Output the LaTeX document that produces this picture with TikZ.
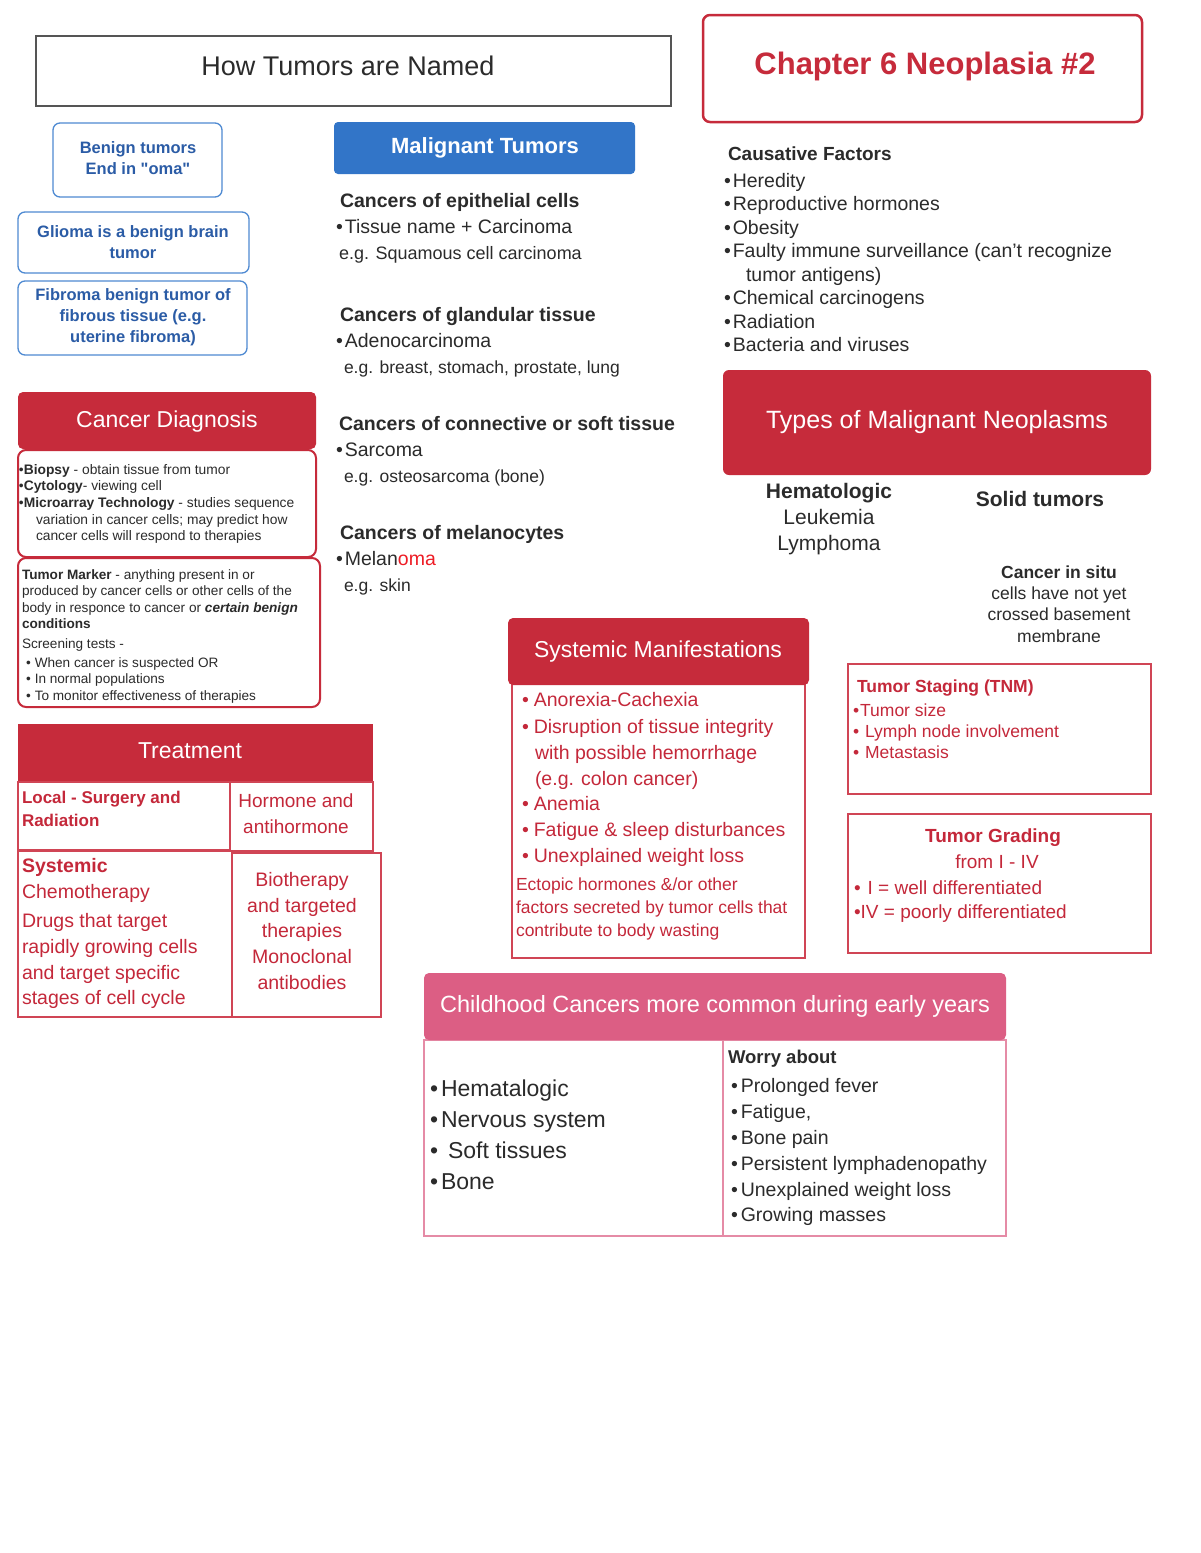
\documentclass[tikz,border=0pt]{standalone}
\usepackage{fontspec}
\setmainfont{Liberation Sans}
\newfontfamily\qfont{Liberation Sans}
\definecolor{hred}{HTML}{C62B3B}
\definecolor{tred}{HTML}{C4283A}
\definecolor{bred}{HTML}{D04555}
\definecolor{ored}{HTML}{EE1C25}
\definecolor{mblue}{HTML}{3275C8}
\definecolor{bblue}{HTML}{4F8AD2}
\definecolor{tblue}{HTML}{2B5CA6}
\definecolor{hpink}{HTML}{DC5E84}
\definecolor{bpink}{HTML}{E58BA6}
\definecolor{dtext}{HTML}{2B2B2B}
\definecolor{gborder}{HTML}{555555}
\newcommand\tln[7]{\node[anchor=#2,inner sep=0pt,outer sep=0pt,font=\fontsize{#5}{#5}\selectfont,#6] (#1) at (#3,{#4+0.35*#5}) {#7};}
\newcommand\bx[6]{\node[inner sep=0pt,outer sep=0pt,minimum width={#4-#2},minimum height={#5-#3},#6] (#1) at ({(#2+#4)/2},{(#3+#5)/2}) {};}
\newcommand\bu[1]{•\hspace{#1pt}}
\tikzset{
  bluebox/.style={draw=bblue,line width=1.3pt,rounded corners=7pt},
  redhead/.style={fill=hred,rounded corners=5pt},
  redcell/.style={draw=bred,line width=1.2pt},
  redround/.style={draw=hred,line width=2pt,rounded corners=8pt},
  pinkcell/.style={draw=bpink,line width=1.2pt},
}
\begin{document}
\begin{tikzpicture}[x=1pt,y=-1pt]
\fill[white] (0,0) rectangle (1200,1553);
\useasboundingbox (0,0) rectangle (1200,1553);

% Title boxes
\bx{howbox}{36}{36}{671}{106}{draw=gborder,line width=1.3pt}
\tln{howt}{base}{348}{66}{27}{text=dtext}{How Tumors are Named}
\bx{chapbox}{703}{15}{1142}{122}{draw=hred,line width=2.5pt,rounded corners=7pt}
\tln{chapt}{base}{925}{63.5}{31}{text=hred}{\bfseries Chapter 6 Neoplasia \#2}

% Blue boxes
\bx{benbox}{53}{123}{222}{197}{bluebox}
\tln{ben1}{base}{138}{148}{16.5}{text=tblue}{\bfseries Benign tumors}
\tln{ben2}{base}{138}{169}{16.5}{text=tblue}{\qfont\bfseries End in "oma"}
\bx{gliobox}{18}{212}{249}{273}{bluebox}
\tln{glio1}{base}{133}{232}{16.5}{text=tblue}{\bfseries Glioma is a benign brain}
\tln{glio2}{base}{133}{253}{16.5}{text=tblue}{\bfseries tumor}
\bx{fibbox}{18}{281}{247}{355}{bluebox}
\tln{fib1}{base}{133}{295}{16.5}{text=tblue}{\bfseries Fibroma benign tumor of}
\tln{fib2}{base}{133}{316}{16.5}{text=tblue}{\bfseries fibrous tissue (e.g.}
\tln{fib3}{base}{133}{337}{16.5}{text=tblue}{\bfseries uterine fibroma)}

% Malignant tumors
\bx{malbox}{334}{122}{635}{174}{fill=mblue,rounded corners=4pt}
\tln{malt}{base}{485}{146}{22}{text=white}{\bfseries Malignant Tumors}
\tln{m1h}{base west}{340}{201}{19.5}{text=dtext}{\bfseries Cancers of epithelial cells}
\tln{m1b}{base west}{336}{227}{19.5}{text=dtext}{\bu{2}Tissue name + Carcinoma}
\tln{m1c}{base west}{339}{253}{18}{text=dtext}{e.g. Squamous cell carcinoma}
\tln{m2h}{base west}{340}{315}{19.5}{text=dtext}{\bfseries Cancers of glandular tissue}
\tln{m2b}{base west}{336}{341}{19.5}{text=dtext}{\bu{2}Adenocarcinoma}
\tln{m2c}{base west}{344}{367}{17.5}{text=dtext}{e.g. breast, stomach, prostate, lung}
\tln{m3h}{base west}{339}{424}{19.5}{text=dtext}{\bfseries Cancers of connective or soft tissue}
\tln{m3b}{base west}{336}{450}{19.5}{text=dtext}{\bu{2}Sarcoma}
\tln{m3c}{base west}{344}{476}{17.5}{text=dtext}{e.g. osteosarcoma (bone)}
\tln{m4h}{base west}{340}{533}{19.5}{text=dtext}{\bfseries Cancers of melanocytes}
\tln{m4b}{base west}{336}{559}{19.5}{text=dtext}{\bu{2}Melan{\color{ored}oma}}
\tln{m4c}{base west}{344}{585}{17.5}{text=dtext}{e.g. skin}

% Causative factors
\tln{cf0}{base west}{728}{154}{19}{text=dtext}{\bfseries Causative Factors}
\tln{cf1}{base west}{724}{181}{19.5}{text=dtext}{\bu{2}Heredity}
\tln{cf2}{base west}{724}{204}{19.5}{text=dtext}{\bu{2}Reproductive hormones}
\tln{cf3}{base west}{724}{228}{19.5}{text=dtext}{\bu{2}Obesity}
\tln{cf4}{base west}{724}{251}{19.5}{text=dtext}{\bu{2}Faulty immune surveillance (can't recognize}
\tln{cf4b}{base west}{746}{275}{19.5}{text=dtext}{tumor antigens)}
\tln{cf5}{base west}{724}{298}{19.5}{text=dtext}{\bu{2}Chemical carcinogens}
\tln{cf6}{base west}{724}{322}{19.5}{text=dtext}{\bu{2}Radiation}
\tln{cf7}{base west}{724}{345}{19.5}{text=dtext}{\bu{2}Bacteria and viruses}

% Cancer diagnosis
\bx{cdh}{18}{392}{316}{449}{redhead}
\tln{cdt}{base}{167}{419}{23}{text=white}{Cancer Diagnosis}
\bx{cdb1}{18}{450}{316}{557}{redround}
\bx{cdb2}{18}{558}{320}{707}{redround}
\tln{cd1}{base west}{19}{470}{13.8}{text=dtext}{•\textbf{Biopsy} - obtain tissue from tumor}
\tln{cd2}{base west}{19}{486}{13.8}{text=dtext}{•\textbf{Cytology}- viewing cell}
\tln{cd3}{base west}{19}{503}{13.8}{text=dtext}{•\textbf{Microarray Technology} - studies sequence}
\tln{cd4}{base west}{36}{520}{13.8}{text=dtext}{variation in cancer cells; may predict how}
\tln{cd5}{base west}{36}{536}{13.8}{text=dtext}{cancer cells will respond to therapies}
\tln{cd6}{base west}{22}{575}{13.6}{text=dtext}{\textbf{Tumor Marker} - anything present in or}
\tln{cd7}{base west}{22}{591}{13.6}{text=dtext}{produced by cancer cells or other cells of the}
\tln{cd8}{base west}{22}{608}{13.6}{text=dtext}{body in responce to cancer or \textbf{\textit{certain benign}}}
\tln{cd9}{base west}{22}{624}{13.6}{text=dtext}{\textbf{conditions}}
\tln{cd10}{base west}{22}{644}{13.6}{text=dtext}{Screening tests -}
\tln{cd11}{base west}{26}{663}{13.6}{text=dtext}{\bu{4}When cancer is suspected OR}
\tln{cd12}{base west}{26}{679}{13.6}{text=dtext}{\bu{4}In normal populations}
\tln{cd13}{base west}{26}{696}{13.6}{text=dtext}{\bu{4}To monitor effectiveness of therapies}

% Treatment
\bx{trh}{18}{724}{373}{782}{fill=hred}
\tln{trt}{base}{190}{750}{23}{text=white}{Treatment}
\bx{trl}{18}{782}{230}{850}{redcell}
\bx{trhm}{230}{782}{373}{851}{redcell}
\bx{trs}{18}{851}{232}{1017}{redcell}
\bx{trb}{232}{853}{381}{1017}{redcell}
\tln{tl1}{base west}{22}{798}{17}{text=tred}{\bfseries Local - Surgery and}
\tln{tl2}{base west}{22}{821}{17}{text=tred}{\bfseries Radiation}
\tln{th1}{base}{296}{801}{19}{text=tred}{Hormone and}
\tln{th2}{base}{296}{827}{19}{text=tred}{antihormone}
\tln{ts1}{base west}{22}{866}{19.5}{text=tred}{\bfseries Systemic}
\tln{ts2}{base west}{22}{892}{19.5}{text=tred}{Chemotherapy}
\tln{ts3}{base west}{22}{921}{19.5}{text=tred}{Drugs that target}
\tln{ts4}{base west}{22}{947}{19.5}{text=tred}{rapidly growing cells}
\tln{ts5}{base west}{22}{973}{19.5}{text=tred}{and target specific}
\tln{ts6}{base west}{22}{998}{19.5}{text=tred}{stages of cell cycle}
\tln{tb1}{base}{302}{880}{19.5}{text=tred}{Biotherapy}
\tln{tb2}{base}{302}{906}{19.5}{text=tred}{and targeted}
\tln{tb3}{base}{302}{931}{19.5}{text=tred}{therapies}
\tln{tb4}{base}{302}{957}{19.5}{text=tred}{Monoclonal}
\tln{tb5}{base}{302}{983}{19.5}{text=tred}{antibodies}

% Systemic manifestations
\bx{smb}{512}{680}{805}{958}{redcell}
\bx{smh}{508}{618}{809}{685}{redhead}
\tln{smt}{base}{658}{649}{23}{text=white}{Systemic Manifestations}
\tln{sm1}{base west}{522}{700}{19.5}{text=tred}{\bu{5}Anorexia-Cachexia}
\tln{sm2}{base west}{522}{727}{19.5}{text=tred}{\bu{5}Disruption of tissue integrity}
\tln{sm3}{base west}{535}{753}{19.5}{text=tred}{with possible hemorrhage}
\tln{sm4}{base west}{535}{779}{19.5}{text=tred}{(e.g. colon cancer)}
\tln{sm5}{base west}{522}{804}{19.5}{text=tred}{\bu{5}Anemia}
\tln{sm6}{base west}{522}{830}{19.5}{text=tred}{\bu{5}Fatigue \& sleep disturbances}
\tln{sm7}{base west}{522}{856}{19.5}{text=tred}{\bu{5}Unexplained weight loss}
\tln{se1}{base west}{516}{884}{17.5}{text=tred}{Ectopic hormones \&/or other}
\tln{se2}{base west}{516}{907}{17.5}{text=tred}{factors secreted by tumor cells that}
\tln{se3}{base west}{516}{930}{17.5}{text=tred}{contribute to body wasting}

% Types of malignant neoplasms
\bx{tyh}{723}{370}{1151}{475}{fill=hred,rounded corners=6pt}
\tln{tyt}{base}{937}{420}{25}{text=white}{Types of Malignant Neoplasms}
\tln{ty1}{base}{829}{491}{21}{text=dtext}{\bfseries Hematologic}
\tln{ty2}{base}{829}{517}{21}{text=dtext}{Leukemia}
\tln{ty3}{base}{829}{543}{21}{text=dtext}{Lymphoma}
\tln{ty4}{base}{1040}{499}{21}{text=dtext}{\bfseries Solid tumors}
\tln{cis1}{base}{1059}{572}{17.5}{text=dtext}{\bfseries Cancer in situ}
\tln{cis2}{base}{1059}{593}{17.5}{text=dtext}{cells have not yet}
\tln{cis3}{base}{1059}{614}{17.5}{text=dtext}{crossed basement}
\tln{cis4}{base}{1059}{636}{17.5}{text=dtext}{membrane}

% Staging and grading
\bx{stg}{848}{664}{1151}{794}{redcell}
\tln{st0}{base west}{857}{686}{17.5}{text=tred}{\bfseries Tumor Staging (TNM)}
\tln{st1}{base west}{853}{710}{17.5}{text=tred}{\bu{1}Tumor size}
\tln{st2}{base west}{853}{731}{17.5}{text=tred}{\bu{6}Lymph node involvement}
\tln{st3}{base west}{853}{752}{17.5}{text=tred}{\bu{6}Metastasis}
\bx{grd}{848}{814}{1151}{953}{redcell}
\tln{gr0}{base}{993}{836}{19}{text=tred}{\bfseries Tumor Grading}
\tln{gr1}{base}{997}{862}{19}{text=tred}{from I - IV}
\tln{gr2}{base west}{854}{888}{19}{text=tred}{\bu{7}I = well differentiated}
\tln{gr3}{base west}{854}{912}{19}{text=tred}{•IV = poorly differentiated}

% Childhood cancers
\bx{chl}{424}{1040}{723}{1236}{pinkcell}
\bx{chr}{723}{1040}{1006}{1236}{pinkcell}
\bx{chh}{424}{973}{1006}{1040}{fill=hpink,rounded corners=5pt}
\tln{cht}{base}{715}{1004}{23.5}{text=white}{Childhood Cancers more common during early years}
\tln{cl1}{base west}{430}{1088}{23}{text=dtext}{\bu{3}Hematalogic}
\tln{cl2}{base west}{430}{1119}{23}{text=dtext}{\bu{3}Nervous system}
\tln{cl3}{base west}{430}{1150}{23}{text=dtext}{\bu{10}Soft tissues}
\tln{cl4}{base west}{430}{1181}{23}{text=dtext}{\bu{3}Bone}
\tln{cr0}{base west}{728}{1057}{18.5}{text=dtext}{\bfseries Worry about}
\tln{cr1}{base west}{731}{1086}{19.5}{text=dtext}{\bu{3}Prolonged fever}
\tln{cr2}{base west}{731}{1112}{19.5}{text=dtext}{\bu{3}Fatigue,}
\tln{cr3}{base west}{731}{1138}{19.5}{text=dtext}{\bu{3}Bone pain}
\tln{cr4}{base west}{731}{1164}{19.5}{text=dtext}{\bu{3}Persistent lymphadenopathy}
\tln{cr5}{base west}{731}{1190}{19.5}{text=dtext}{\bu{3}Unexplained weight loss}
\tln{cr6}{base west}{731}{1215}{19.5}{text=dtext}{\bu{3}Growing masses}
\end{tikzpicture}
\end{document}
